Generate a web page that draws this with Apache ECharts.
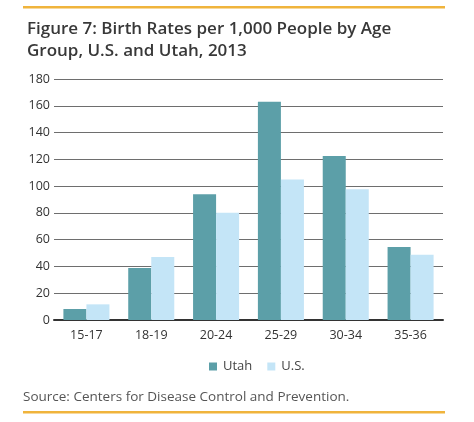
<!DOCTYPE html>
<html>
<head>
<meta charset="utf-8">
<script src="https://cdn.jsdelivr.net/npm/echarts@6/dist/echarts.min.js"></script>
<style>
  html, body { margin: 0; padding: 0; background: #fff; }
  #main { width: 474px; height: 422px; }
</style>
</head>
<body>
<div id="main"></div>
<script>
// age groups and birth rates
const ageGroups = ['15-17', '18-19', '20-24', '25-29', '30-34', '35-36'];
const utahRates = [8.2, 38.8, 93.9, 163, 122.5, 54.5];
const usRates = [11.7, 47.0, 80.1, 105, 97.6, 48.8];
const yTicks = [0, 20, 40, 60, 80, 100, 120, 140, 160, 180];

var chartDom = document.getElementById('main');
var myChart = echarts.init(chartDom);
var option;

option = {
  animation: false,
  title: {
    text: 'Figure 7: Birth Rates per 1,000 People by Age\nGroup, U.S. and Utah, 2013',
    left: 22,
    top: 13,
    textStyle: {
      fontFamily: 'Open Sans',
      fontSize: 17,
      fontWeight: 600,
      color: '#383838',
      lineHeight: 22
    }
  },
  graphic: [
    {
      type: 'rect',
      shape: { x: 23, y: 6, width: 422, height: 2.5 },
      style: { fill: '#f0b43c' }
    },
    {
      type: 'rect',
      shape: { x: 23, y: 411, width: 422, height: 2.5 },
      style: { fill: '#f0b43c' }
    },
    {
      type: 'text',
      left: 23,
      top: 390,
      style: {
        text: 'Source: Centers for Disease Control and Prevention.',
        fontFamily: 'Open Sans',
        fontSize: 13.5,
        fill: '#555'
      }
    }
  ],
  legend: {
    data: ['Utah', 'U.S.'],
    top: 355,
    left: 204,
    itemWidth: 8,
    itemHeight: 8,
    itemGap: 15,
    icon: 'rect',
    textStyle: {
      fontFamily: 'Open Sans',
      fontSize: 13,
      color: '#444',
      padding: [0, 0, 0, 1]
    }
  },
  grid: {
    left: 54,
    right: 31,
    top: 79,
    bottom: 102
  },
  xAxis: {
    type: 'category',
    data: ageGroups,
    axisLine: { lineStyle: { color: '#333', width: 2 } },
    axisTick: { show: false },
    axisLabel: {
      fontFamily: 'Open Sans',
      fontSize: 12.5,
      color: '#333',
      margin: 9
    }
  },
  yAxis: {
    type: 'value',
    min: yTicks[0],
    max: yTicks[yTicks.length - 1],
    interval: 20,
    axisLine: { show: false },
    axisTick: { show: false },
    axisLabel: {
      fontFamily: 'Open Sans',
      fontSize: 12.5,
      color: '#333',
      margin: 4
    },
    splitLine: { lineStyle: { color: '#6e6e6e', width: 1 } }
  },
  series: [
    {
      name: 'Utah',
      type: 'bar',
      data: utahRates,
      barGap: 0,
      barCategoryGap: '29%',
      itemStyle: { color: '#5c9fa8' }
    },
    {
      name: 'U.S.',
      type: 'bar',
      data: usRates,
      itemStyle: { color: '#c4e5f7' }
    }
  ]
};

option && myChart.setOption(option);
</script>
</body>
</html>
